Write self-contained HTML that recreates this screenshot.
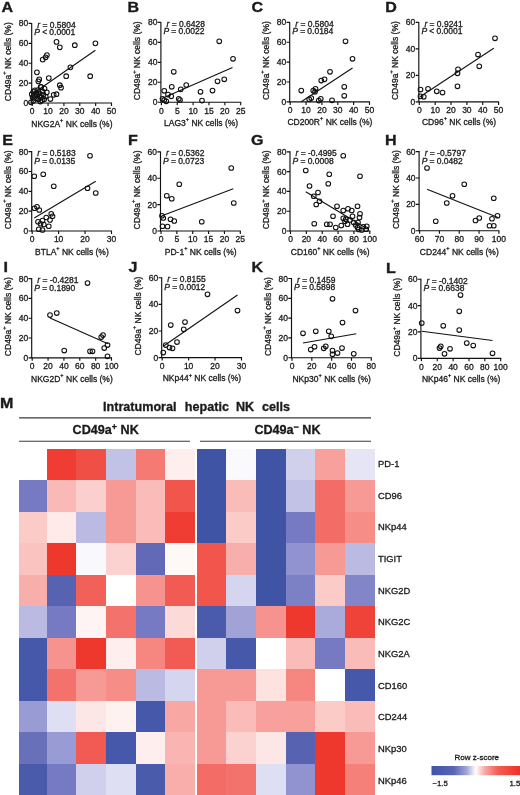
<!DOCTYPE html>
<html lang="en">
<head>
<meta charset="utf-8">
<title>Figure: CD49a+ NK cell correlations and intratumoral hepatic NK cell heatmap</title>
<style>
html,body{margin:0;padding:0;background:#fff;}
body{width:520px;height:795px;overflow:hidden;}
svg{display:block;font-family:"Liberation Sans",Arial,Helvetica,sans-serif;fill:#1a1a1a;}
text{stroke:#1a1a1a;stroke-width:0.3px;}
.lt{stroke-width:0.35px;}
.ax{stroke:#111;stroke-width:1.15;fill:none;}
.rl{stroke:#111;stroke-width:1.1;fill:none;}
.pt circle{stroke:#111;stroke-width:1.05;fill:none;}
.hl{stroke:#3a3a3a;stroke-width:1.1;fill:none;}
</style>
</head>
<body>
<svg width="520" height="795" viewBox="0 0 520 795">
<defs>
<linearGradient id="cb" x1="0" y1="0" x2="1" y2="0">
<stop offset="0" stop-color="#4054a6"/>
<stop offset="0.25" stop-color="#5965b3"/>
<stop offset="0.4" stop-color="#a3a7d8"/>
<stop offset="0.5" stop-color="#ffffff"/>
<stop offset="0.6" stop-color="#f9aaa5"/>
<stop offset="0.75" stop-color="#f25d54"/>
<stop offset="1" stop-color="#ee3127"/>
</linearGradient>
</defs>
<rect width="520" height="795" fill="#fff"/>
<text transform="translate(1.50 12.30) scale(1.13 1)" font-size="14.2" font-weight="bold" class="lt">A</text>
<path d="M31.70 22.90V103.50M31.20 103.00H112.00" class="ax"/>
<text x="28.20" y="106.00" font-size="8.5" text-anchor="end">0</text>
<text x="28.20" y="86.10" font-size="8.5" text-anchor="end">20</text>
<text x="28.20" y="66.20" font-size="8.5" text-anchor="end">40</text>
<text x="28.20" y="46.30" font-size="8.5" text-anchor="end">60</text>
<text x="28.20" y="26.40" font-size="8.5" text-anchor="end">80</text>
<text x="32.20" y="114.40" font-size="8.5" text-anchor="middle">0</text>
<text x="48.06" y="114.40" font-size="8.5" text-anchor="middle">10</text>
<text x="63.92" y="114.40" font-size="8.5" text-anchor="middle">20</text>
<text x="79.78" y="114.40" font-size="8.5" text-anchor="middle">30</text>
<text x="95.64" y="114.40" font-size="8.5" text-anchor="middle">40</text>
<text x="111.50" y="114.40" font-size="8.5" text-anchor="middle">50</text>
<path d="M28.50 103.00H31.70M28.50 83.10H31.70M28.50 63.20H31.70M28.50 43.30H31.70M28.50 23.40H31.70M32.20 103.00V106.00M48.06 103.00V106.00M63.92 103.00V106.00M79.78 103.00V106.00M95.64 103.00V106.00M111.50 103.00V106.00" class="ax"/>
<text x="71.90" y="126.80" font-size="8.5" text-anchor="middle">NKG2A<tspan dy="-4.8" font-size="5.6">+</tspan><tspan dy="4.8"> NK cells (%)</tspan></text>
<text x="11.20" y="61.70" font-size="8.5" text-anchor="middle" transform="rotate(-90 11.20 61.70)">CD49a<tspan dy="-4.8" font-size="5.6">+</tspan><tspan dy="4.8"> NK cells (%)</tspan></text>
<text x="37.30" y="27.80" font-size="8.5"><tspan font-style="italic">r</tspan><tspan dx="2.3">=</tspan><tspan dx="2.3">0.5804</tspan></text>
<text x="34.30" y="35.30" font-size="8.5"><tspan font-style="italic">P</tspan><tspan dx="2.2"><</tspan><tspan dx="2.2">0.0001</tspan></text>
<path d="M32.70 93.70L95.40 50.20" class="rl"/>
<g class="pt"><circle cx="56.50" cy="41.90" r="2.35"/><circle cx="59.80" cy="47.30" r="2.35"/><circle cx="74.80" cy="45.20" r="2.35"/><circle cx="95.40" cy="43.30" r="2.35"/><circle cx="46.90" cy="55.00" r="2.35"/><circle cx="45.60" cy="57.30" r="2.35"/><circle cx="42.70" cy="59.60" r="2.35"/><circle cx="70.40" cy="67.30" r="2.35"/><circle cx="36.90" cy="72.30" r="2.35"/><circle cx="66.20" cy="76.20" r="2.35"/><circle cx="90.20" cy="76.20" r="2.35"/><circle cx="48.80" cy="78.10" r="2.35"/><circle cx="39.20" cy="79.40" r="2.35"/><circle cx="38.30" cy="81.30" r="2.35"/><circle cx="59.80" cy="85.20" r="2.35"/><circle cx="61.00" cy="87.70" r="2.35"/><circle cx="41.20" cy="87.10" r="2.35"/><circle cx="56.50" cy="94.20" r="2.35"/><circle cx="53.70" cy="94.80" r="2.35"/><circle cx="50.40" cy="99.00" r="2.35"/><circle cx="34.90" cy="90.40" r="2.35"/><circle cx="40.70" cy="86.90" r="2.35"/><circle cx="44.50" cy="88.50" r="2.35"/><circle cx="46.80" cy="92.30" r="2.35"/><circle cx="45.70" cy="96.50" r="2.35"/><circle cx="40.30" cy="101.50" r="2.35"/><circle cx="33.40" cy="100.80" r="2.35"/><circle cx="31.80" cy="94.20" r="2.35"/><circle cx="38.00" cy="90.00" r="2.35"/><circle cx="42.60" cy="91.50" r="2.35"/><circle cx="37.20" cy="95.40" r="2.35"/><circle cx="41.00" cy="97.70" r="2.35"/><circle cx="35.70" cy="98.50" r="2.35"/><circle cx="39.20" cy="93.00" r="2.35"/><circle cx="43.40" cy="94.60" r="2.35"/><circle cx="33.40" cy="91.50" r="2.35"/><circle cx="44.20" cy="99.20" r="2.35"/><circle cx="32.60" cy="97.30" r="2.35"/><circle cx="38.40" cy="99.20" r="2.35"/><circle cx="31.00" cy="102.30" r="2.35"/><circle cx="36.30" cy="92.80" r="2.35"/><circle cx="34.30" cy="95.80" r="2.35"/><circle cx="42.00" cy="100.30" r="2.35"/><circle cx="39.80" cy="96.00" r="2.35"/></g>
<text transform="translate(127.60 12.30) scale(1.13 1)" font-size="14.2" font-weight="bold" class="lt">B</text>
<path d="M160.90 21.90V102.70M160.40 102.20H241.20" class="ax"/>
<text x="157.40" y="105.20" font-size="8.5" text-anchor="end">0</text>
<text x="157.40" y="85.25" font-size="8.5" text-anchor="end">20</text>
<text x="157.40" y="65.30" font-size="8.5" text-anchor="end">40</text>
<text x="157.40" y="45.35" font-size="8.5" text-anchor="end">60</text>
<text x="157.40" y="25.40" font-size="8.5" text-anchor="end">80</text>
<text x="161.40" y="113.60" font-size="8.5" text-anchor="middle">0</text>
<text x="177.26" y="113.60" font-size="8.5" text-anchor="middle">5</text>
<text x="193.12" y="113.60" font-size="8.5" text-anchor="middle">10</text>
<text x="208.98" y="113.60" font-size="8.5" text-anchor="middle">15</text>
<text x="224.84" y="113.60" font-size="8.5" text-anchor="middle">20</text>
<text x="240.70" y="113.60" font-size="8.5" text-anchor="middle">25</text>
<path d="M157.70 102.20H160.90M157.70 82.25H160.90M157.70 62.30H160.90M157.70 42.35H160.90M157.70 22.40H160.90M161.40 102.20V105.20M177.26 102.20V105.20M193.12 102.20V105.20M208.98 102.20V105.20M224.84 102.20V105.20M240.70 102.20V105.20" class="ax"/>
<text x="201.10" y="126.00" font-size="8.5" text-anchor="middle">LAG3<tspan dy="-4.8" font-size="5.6">+</tspan><tspan dy="4.8"> NK cells (%)</tspan></text>
<text x="140.40" y="60.80" font-size="8.5" text-anchor="middle" transform="rotate(-90 140.40 60.80)">CD49a<tspan dy="-4.8" font-size="5.6">+</tspan><tspan dy="4.8"> NK cells (%)</tspan></text>
<text x="166.50" y="26.80" font-size="8.5"><tspan font-style="italic">r</tspan><tspan dx="2.3">=</tspan><tspan dx="2.3">0.6428</tspan></text>
<text x="163.50" y="34.30" font-size="8.5"><tspan font-style="italic">P</tspan><tspan dx="2.2">=</tspan><tspan dx="2.2">0.0022</tspan></text>
<path d="M163.00 98.00L232.50 67.50" class="rl"/>
<g class="pt"><circle cx="219.25" cy="41.25" r="2.35"/><circle cx="233.00" cy="58.75" r="2.35"/><circle cx="173.75" cy="71.75" r="2.35"/><circle cx="224.25" cy="79.25" r="2.35"/><circle cx="217.50" cy="81.25" r="2.35"/><circle cx="186.25" cy="85.00" r="2.35"/><circle cx="171.75" cy="86.75" r="2.35"/><circle cx="164.25" cy="90.75" r="2.35"/><circle cx="180.75" cy="89.25" r="2.35"/><circle cx="212.50" cy="90.50" r="2.35"/><circle cx="200.50" cy="91.75" r="2.35"/><circle cx="168.00" cy="94.50" r="2.35"/><circle cx="171.25" cy="96.25" r="2.35"/><circle cx="162.50" cy="98.75" r="2.35"/><circle cx="164.25" cy="100.00" r="2.35"/><circle cx="178.75" cy="98.75" r="2.35"/><circle cx="180.00" cy="100.00" r="2.35"/><circle cx="202.00" cy="100.50" r="2.35"/><circle cx="166.25" cy="101.25" r="2.35"/></g>
<text transform="translate(251.50 12.30) scale(1.13 1)" font-size="14.2" font-weight="bold" class="lt">C</text>
<path d="M289.70 21.90V102.40M289.20 101.90H370.00" class="ax"/>
<text x="286.20" y="104.90" font-size="8.5" text-anchor="end">0</text>
<text x="286.20" y="85.03" font-size="8.5" text-anchor="end">20</text>
<text x="286.20" y="65.15" font-size="8.5" text-anchor="end">40</text>
<text x="286.20" y="45.28" font-size="8.5" text-anchor="end">60</text>
<text x="286.20" y="25.40" font-size="8.5" text-anchor="end">80</text>
<text x="290.20" y="113.30" font-size="8.5" text-anchor="middle">0</text>
<text x="306.06" y="113.30" font-size="8.5" text-anchor="middle">10</text>
<text x="321.92" y="113.30" font-size="8.5" text-anchor="middle">20</text>
<text x="337.78" y="113.30" font-size="8.5" text-anchor="middle">30</text>
<text x="353.64" y="113.30" font-size="8.5" text-anchor="middle">40</text>
<text x="369.50" y="113.30" font-size="8.5" text-anchor="middle">50</text>
<path d="M286.50 101.90H289.70M286.50 82.03H289.70M286.50 62.15H289.70M286.50 42.28H289.70M286.50 22.40H289.70M290.20 101.90V104.90M306.06 101.90V104.90M321.92 101.90V104.90M337.78 101.90V104.90M353.64 101.90V104.90M369.50 101.90V104.90" class="ax"/>
<text x="329.90" y="125.00" font-size="8.5" text-anchor="middle">CD200R<tspan dy="-4.8" font-size="5.6">+</tspan><tspan dy="4.8"> NK cells (%)</tspan></text>
<text x="269.20" y="60.65" font-size="8.5" text-anchor="middle" transform="rotate(-90 269.20 60.65)">CD49a<tspan dy="-4.8" font-size="5.6">+</tspan><tspan dy="4.8"> NK cells (%)</tspan></text>
<text x="295.30" y="26.80" font-size="8.5"><tspan font-style="italic">r</tspan><tspan dx="2.3">=</tspan><tspan dx="2.3">0.5804</tspan></text>
<text x="292.30" y="34.30" font-size="8.5"><tspan font-style="italic">P</tspan><tspan dx="2.2">=</tspan><tspan dx="2.2">0.0184</tspan></text>
<path d="M301.25 101.75L352.50 68.00" class="rl"/>
<g class="pt"><circle cx="345.50" cy="41.25" r="2.35"/><circle cx="352.50" cy="58.75" r="2.35"/><circle cx="330.00" cy="71.75" r="2.35"/><circle cx="324.50" cy="79.25" r="2.35"/><circle cx="321.25" cy="80.50" r="2.35"/><circle cx="344.25" cy="86.75" r="2.35"/><circle cx="301.25" cy="90.50" r="2.35"/><circle cx="315.50" cy="88.75" r="2.35"/><circle cx="313.25" cy="90.50" r="2.35"/><circle cx="315.00" cy="91.75" r="2.35"/><circle cx="344.25" cy="95.75" r="2.35"/><circle cx="311.25" cy="98.00" r="2.35"/><circle cx="309.25" cy="99.25" r="2.35"/><circle cx="320.75" cy="98.75" r="2.35"/><circle cx="318.75" cy="100.50" r="2.35"/><circle cx="332.00" cy="100.25" r="2.35"/></g>
<text transform="translate(385.30 12.30) scale(1.13 1)" font-size="14.2" font-weight="bold" class="lt">D</text>
<path d="M418.80 21.90V102.40M418.30 101.90H499.10" class="ax"/>
<text x="415.30" y="104.90" font-size="8.5" text-anchor="end">0</text>
<text x="415.30" y="78.40" font-size="8.5" text-anchor="end">20</text>
<text x="415.30" y="51.90" font-size="8.5" text-anchor="end">40</text>
<text x="415.30" y="25.40" font-size="8.5" text-anchor="end">60</text>
<text x="419.30" y="113.30" font-size="8.5" text-anchor="middle">0</text>
<text x="435.16" y="113.30" font-size="8.5" text-anchor="middle">10</text>
<text x="451.02" y="113.30" font-size="8.5" text-anchor="middle">20</text>
<text x="466.88" y="113.30" font-size="8.5" text-anchor="middle">30</text>
<text x="482.74" y="113.30" font-size="8.5" text-anchor="middle">40</text>
<text x="498.60" y="113.30" font-size="8.5" text-anchor="middle">50</text>
<path d="M415.60 101.90H418.80M415.60 75.40H418.80M415.60 48.90H418.80M415.60 22.40H418.80M419.30 101.90V104.90M435.16 101.90V104.90M451.02 101.90V104.90M466.88 101.90V104.90M482.74 101.90V104.90M498.60 101.90V104.90" class="ax"/>
<text x="459.00" y="124.70" font-size="8.5" text-anchor="middle">CD96<tspan dy="-4.8" font-size="5.6">+</tspan><tspan dy="4.8"> NK cells (%)</tspan></text>
<text x="398.30" y="60.65" font-size="8.5" text-anchor="middle" transform="rotate(-90 398.30 60.65)">CD49a<tspan dy="-4.8" font-size="5.6">+</tspan><tspan dy="4.8"> NK cells (%)</tspan></text>
<text x="424.40" y="26.80" font-size="8.5"><tspan font-style="italic">r</tspan><tspan dx="2.3">=</tspan><tspan dx="2.3">0.9241</tspan></text>
<text x="421.40" y="34.30" font-size="8.5"><tspan font-style="italic">P</tspan><tspan dx="2.2"><</tspan><tspan dx="2.2">0.0001</tspan></text>
<path d="M420.00 96.75L493.75 48.25" class="rl"/>
<g class="pt"><circle cx="495.00" cy="38.25" r="2.35"/><circle cx="478.00" cy="54.50" r="2.35"/><circle cx="479.25" cy="66.25" r="2.35"/><circle cx="458.00" cy="69.25" r="2.35"/><circle cx="457.50" cy="73.25" r="2.35"/><circle cx="457.50" cy="86.25" r="2.35"/><circle cx="428.00" cy="88.75" r="2.35"/><circle cx="420.50" cy="89.50" r="2.35"/><circle cx="436.75" cy="91.25" r="2.35"/><circle cx="442.50" cy="92.50" r="2.35"/><circle cx="420.50" cy="96.25" r="2.35"/><circle cx="423.75" cy="96.75" r="2.35"/></g>
<text transform="translate(2.30 145.00) scale(1.13 1)" font-size="14.2" font-weight="bold" class="lt">E</text>
<path d="M31.70 151.10V231.50M31.20 231.00H112.00" class="ax"/>
<text x="28.20" y="234.00" font-size="8.5" text-anchor="end">0</text>
<text x="28.20" y="214.15" font-size="8.5" text-anchor="end">20</text>
<text x="28.20" y="194.30" font-size="8.5" text-anchor="end">40</text>
<text x="28.20" y="174.45" font-size="8.5" text-anchor="end">60</text>
<text x="28.20" y="154.60" font-size="8.5" text-anchor="end">80</text>
<text x="32.20" y="242.40" font-size="8.5" text-anchor="middle">0</text>
<text x="58.63" y="242.40" font-size="8.5" text-anchor="middle">10</text>
<text x="85.07" y="242.40" font-size="8.5" text-anchor="middle">20</text>
<text x="111.50" y="242.40" font-size="8.5" text-anchor="middle">30</text>
<path d="M28.50 231.00H31.70M28.50 211.15H31.70M28.50 191.30H31.70M28.50 171.45H31.70M28.50 151.60H31.70M32.20 231.00V234.00M58.63 231.00V234.00M85.07 231.00V234.00M111.50 231.00V234.00" class="ax"/>
<text x="71.90" y="254.80" font-size="8.5" text-anchor="middle">BTLA<tspan dy="-4.8" font-size="5.6">+</tspan><tspan dy="4.8"> NK cells (%)</tspan></text>
<text x="11.20" y="189.80" font-size="8.5" text-anchor="middle" transform="rotate(-90 11.20 189.80)">CD49a<tspan dy="-4.8" font-size="5.6">+</tspan><tspan dy="4.8"> NK cells (%)</tspan></text>
<text x="37.30" y="156.00" font-size="8.5"><tspan font-style="italic">r</tspan><tspan dx="2.3">=</tspan><tspan dx="2.3">0.5183</tspan></text>
<text x="34.30" y="163.50" font-size="8.5"><tspan font-style="italic">P</tspan><tspan dx="2.2">=</tspan><tspan dx="2.2">0.0135</tspan></text>
<path d="M34.25 218.00L95.75 181.25" class="rl"/>
<g class="pt"><circle cx="90.00" cy="155.75" r="2.35"/><circle cx="34.25" cy="176.25" r="2.35"/><circle cx="43.25" cy="174.25" r="2.35"/><circle cx="53.75" cy="186.25" r="2.35"/><circle cx="87.50" cy="188.25" r="2.35"/><circle cx="95.75" cy="193.00" r="2.35"/><circle cx="37.00" cy="206.75" r="2.35"/><circle cx="34.50" cy="208.25" r="2.35"/><circle cx="39.25" cy="210.00" r="2.35"/><circle cx="51.25" cy="213.75" r="2.35"/><circle cx="52.50" cy="216.25" r="2.35"/><circle cx="46.25" cy="217.50" r="2.35"/><circle cx="50.00" cy="220.00" r="2.35"/><circle cx="42.50" cy="220.50" r="2.35"/><circle cx="38.00" cy="221.75" r="2.35"/><circle cx="40.50" cy="223.75" r="2.35"/><circle cx="43.75" cy="224.50" r="2.35"/><circle cx="48.75" cy="226.25" r="2.35"/><circle cx="38.75" cy="229.25" r="2.35"/><circle cx="42.50" cy="230.00" r="2.35"/></g>
<text transform="translate(128.00 145.00) scale(1.13 1)" font-size="14.2" font-weight="bold" class="lt">F</text>
<path d="M160.50 151.40V231.50M160.00 231.00H240.80" class="ax"/>
<text x="157.00" y="234.00" font-size="8.5" text-anchor="end">0</text>
<text x="157.00" y="207.63" font-size="8.5" text-anchor="end">20</text>
<text x="157.00" y="181.27" font-size="8.5" text-anchor="end">40</text>
<text x="157.00" y="154.90" font-size="8.5" text-anchor="end">60</text>
<text x="161.00" y="242.40" font-size="8.5" text-anchor="middle">0</text>
<text x="176.86" y="242.40" font-size="8.5" text-anchor="middle">5</text>
<text x="192.72" y="242.40" font-size="8.5" text-anchor="middle">10</text>
<text x="208.58" y="242.40" font-size="8.5" text-anchor="middle">15</text>
<text x="224.44" y="242.40" font-size="8.5" text-anchor="middle">20</text>
<text x="240.30" y="242.40" font-size="8.5" text-anchor="middle">25</text>
<path d="M157.30 231.00H160.50M157.30 204.63H160.50M157.30 178.27H160.50M157.30 151.90H160.50M161.00 231.00V234.00M176.86 231.00V234.00M192.72 231.00V234.00M208.58 231.00V234.00M224.44 231.00V234.00M240.30 231.00V234.00" class="ax"/>
<text x="200.70" y="254.80" font-size="8.5" text-anchor="middle">PD-1<tspan dy="-4.8" font-size="5.6">+</tspan><tspan dy="4.8"> NK cells (%)</tspan></text>
<text x="140.00" y="189.95" font-size="8.5" text-anchor="middle" transform="rotate(-90 140.00 189.95)">CD49a<tspan dy="-4.8" font-size="5.6">+</tspan><tspan dy="4.8"> NK cells (%)</tspan></text>
<text x="166.10" y="156.30" font-size="8.5"><tspan font-style="italic">r</tspan><tspan dx="2.3">=</tspan><tspan dx="2.3">0.5362</tspan></text>
<text x="163.10" y="163.80" font-size="8.5"><tspan font-style="italic">P</tspan><tspan dx="2.2">=</tspan><tspan dx="2.2">0.0723</tspan></text>
<path d="M162.00 215.75L233.25 188.75" class="rl"/>
<g class="pt"><circle cx="231.25" cy="168.00" r="2.35"/><circle cx="179.25" cy="184.25" r="2.35"/><circle cx="166.75" cy="195.75" r="2.35"/><circle cx="171.75" cy="198.75" r="2.35"/><circle cx="233.75" cy="203.00" r="2.35"/><circle cx="162.00" cy="215.75" r="2.35"/><circle cx="163.25" cy="218.00" r="2.35"/><circle cx="170.50" cy="219.25" r="2.35"/><circle cx="174.25" cy="221.00" r="2.35"/><circle cx="201.75" cy="221.75" r="2.35"/><circle cx="162.50" cy="226.25" r="2.35"/><circle cx="167.50" cy="226.50" r="2.35"/></g>
<text transform="translate(251.00 145.00) scale(1.13 1)" font-size="14.2" font-weight="bold" class="lt">G</text>
<path d="M290.00 151.30V231.50M289.50 231.00H370.30" class="ax"/>
<text x="286.50" y="234.00" font-size="8.5" text-anchor="end">0</text>
<text x="286.50" y="214.20" font-size="8.5" text-anchor="end">20</text>
<text x="286.50" y="194.40" font-size="8.5" text-anchor="end">40</text>
<text x="286.50" y="174.60" font-size="8.5" text-anchor="end">60</text>
<text x="286.50" y="154.80" font-size="8.5" text-anchor="end">80</text>
<text x="290.50" y="242.40" font-size="8.5" text-anchor="middle">0</text>
<text x="306.36" y="242.40" font-size="8.5" text-anchor="middle">20</text>
<text x="322.22" y="242.40" font-size="8.5" text-anchor="middle">40</text>
<text x="338.08" y="242.40" font-size="8.5" text-anchor="middle">60</text>
<text x="353.94" y="242.40" font-size="8.5" text-anchor="middle">80</text>
<text x="369.80" y="242.40" font-size="8.5" text-anchor="middle">100</text>
<path d="M286.80 231.00H290.00M286.80 211.20H290.00M286.80 191.40H290.00M286.80 171.60H290.00M286.80 151.80H290.00M290.50 231.00V234.00M306.36 231.00V234.00M322.22 231.00V234.00M338.08 231.00V234.00M353.94 231.00V234.00M369.80 231.00V234.00" class="ax"/>
<text x="330.20" y="254.80" font-size="8.5" text-anchor="middle">CD160<tspan dy="-4.8" font-size="5.6">+</tspan><tspan dy="4.8"> NK cells (%)</tspan></text>
<text x="269.50" y="189.90" font-size="8.5" text-anchor="middle" transform="rotate(-90 269.50 189.90)">CD49a<tspan dy="-4.8" font-size="5.6">+</tspan><tspan dy="4.8"> NK cells (%)</tspan></text>
<text x="295.60" y="156.20" font-size="8.5"><tspan font-style="italic">r</tspan><tspan dx="2.3">=</tspan><tspan dx="2.3">-0.4995</tspan></text>
<text x="292.60" y="163.70" font-size="8.5"><tspan font-style="italic">P</tspan><tspan dx="2.2">=</tspan><tspan dx="2.2">0.0008</tspan></text>
<path d="M305.75 191.75L368.00 229.25" class="rl"/>
<g class="pt"><circle cx="343.25" cy="155.75" r="2.35"/><circle cx="305.75" cy="170.50" r="2.35"/><circle cx="329.25" cy="174.25" r="2.35"/><circle cx="360.00" cy="176.25" r="2.35"/><circle cx="328.25" cy="183.75" r="2.35"/><circle cx="309.50" cy="186.00" r="2.35"/><circle cx="318.00" cy="192.50" r="2.35"/><circle cx="313.75" cy="196.25" r="2.35"/><circle cx="319.50" cy="201.25" r="2.35"/><circle cx="316.25" cy="204.50" r="2.35"/><circle cx="337.00" cy="206.25" r="2.35"/><circle cx="357.50" cy="206.25" r="2.35"/><circle cx="348.00" cy="208.75" r="2.35"/><circle cx="343.25" cy="210.50" r="2.35"/><circle cx="351.75" cy="210.50" r="2.35"/><circle cx="360.00" cy="213.75" r="2.35"/><circle cx="333.00" cy="216.25" r="2.35"/><circle cx="359.50" cy="217.50" r="2.35"/><circle cx="352.50" cy="216.25" r="2.35"/><circle cx="343.25" cy="218.25" r="2.35"/><circle cx="345.75" cy="219.25" r="2.35"/><circle cx="350.00" cy="220.00" r="2.35"/><circle cx="345.00" cy="221.25" r="2.35"/><circle cx="353.75" cy="222.50" r="2.35"/><circle cx="358.00" cy="222.50" r="2.35"/><circle cx="314.25" cy="223.75" r="2.35"/><circle cx="326.75" cy="224.25" r="2.35"/><circle cx="330.00" cy="224.25" r="2.35"/><circle cx="347.50" cy="224.25" r="2.35"/><circle cx="341.25" cy="225.50" r="2.35"/><circle cx="355.75" cy="225.00" r="2.35"/><circle cx="335.75" cy="227.50" r="2.35"/><circle cx="357.50" cy="227.50" r="2.35"/><circle cx="363.25" cy="226.75" r="2.35"/><circle cx="366.75" cy="226.25" r="2.35"/><circle cx="358.75" cy="229.50" r="2.35"/><circle cx="361.75" cy="230.00" r="2.35"/><circle cx="366.25" cy="229.25" r="2.35"/></g>
<text transform="translate(385.00 145.00) scale(1.13 1)" font-size="14.2" font-weight="bold" class="lt">H</text>
<path d="M419.10 151.10V231.20M418.60 230.70H499.40" class="ax"/>
<text x="415.60" y="233.70" font-size="8.5" text-anchor="end">0</text>
<text x="415.60" y="207.33" font-size="8.5" text-anchor="end">20</text>
<text x="415.60" y="180.97" font-size="8.5" text-anchor="end">40</text>
<text x="415.60" y="154.60" font-size="8.5" text-anchor="end">60</text>
<text x="419.60" y="242.10" font-size="8.5" text-anchor="middle">60</text>
<text x="439.43" y="242.10" font-size="8.5" text-anchor="middle">70</text>
<text x="459.25" y="242.10" font-size="8.5" text-anchor="middle">80</text>
<text x="479.08" y="242.10" font-size="8.5" text-anchor="middle">90</text>
<text x="498.90" y="242.10" font-size="8.5" text-anchor="middle">100</text>
<path d="M415.90 230.70H419.10M415.90 204.33H419.10M415.90 177.97H419.10M415.90 151.60H419.10M419.60 230.70V233.70M439.43 230.70V233.70M459.25 230.70V233.70M479.08 230.70V233.70M498.90 230.70V233.70" class="ax"/>
<text x="459.30" y="254.50" font-size="8.5" text-anchor="middle">CD244<tspan dy="-4.8" font-size="5.6">+</tspan><tspan dy="4.8"> NK cells (%)</tspan></text>
<text x="398.60" y="189.65" font-size="8.5" text-anchor="middle" transform="rotate(-90 398.60 189.65)">CD49a<tspan dy="-4.8" font-size="5.6">+</tspan><tspan dy="4.8"> NK cells (%)</tspan></text>
<text x="424.70" y="156.00" font-size="8.5"><tspan font-style="italic">r</tspan><tspan dx="2.3">=</tspan><tspan dx="2.3">-0.5797</tspan></text>
<text x="421.70" y="163.50" font-size="8.5"><tspan font-style="italic">P</tspan><tspan dx="2.2">=</tspan><tspan dx="2.2">0.0482</tspan></text>
<path d="M427.00 189.25L498.00 217.50" class="rl"/>
<g class="pt"><circle cx="427.00" cy="168.00" r="2.35"/><circle cx="464.25" cy="184.25" r="2.35"/><circle cx="452.50" cy="195.75" r="2.35"/><circle cx="493.75" cy="198.25" r="2.35"/><circle cx="446.75" cy="203.00" r="2.35"/><circle cx="497.50" cy="215.75" r="2.35"/><circle cx="479.25" cy="218.00" r="2.35"/><circle cx="492.00" cy="218.75" r="2.35"/><circle cx="475.50" cy="220.50" r="2.35"/><circle cx="435.75" cy="221.25" r="2.35"/><circle cx="489.50" cy="225.75" r="2.35"/><circle cx="493.75" cy="225.75" r="2.35"/></g>
<text transform="translate(3.50 272.00) scale(1.13 1)" font-size="14.2" font-weight="bold" class="lt">I</text>
<path d="M31.70 278.10V358.30M31.20 357.80H112.00" class="ax"/>
<text x="28.20" y="360.80" font-size="8.5" text-anchor="end">0</text>
<text x="28.20" y="341.00" font-size="8.5" text-anchor="end">20</text>
<text x="28.20" y="321.20" font-size="8.5" text-anchor="end">40</text>
<text x="28.20" y="301.40" font-size="8.5" text-anchor="end">60</text>
<text x="28.20" y="281.60" font-size="8.5" text-anchor="end">80</text>
<text x="32.20" y="369.20" font-size="8.5" text-anchor="middle">0</text>
<text x="48.06" y="369.20" font-size="8.5" text-anchor="middle">20</text>
<text x="63.92" y="369.20" font-size="8.5" text-anchor="middle">40</text>
<text x="79.78" y="369.20" font-size="8.5" text-anchor="middle">60</text>
<text x="95.64" y="369.20" font-size="8.5" text-anchor="middle">80</text>
<text x="111.50" y="369.20" font-size="8.5" text-anchor="middle">100</text>
<path d="M28.50 357.80H31.70M28.50 338.00H31.70M28.50 318.20H31.70M28.50 298.40H31.70M28.50 278.60H31.70M32.20 357.80V360.80M48.06 357.80V360.80M63.92 357.80V360.80M79.78 357.80V360.80M95.64 357.80V360.80M111.50 357.80V360.80" class="ax"/>
<text x="71.90" y="381.60" font-size="8.5" text-anchor="middle">NKG2D<tspan dy="-4.8" font-size="5.6">+</tspan><tspan dy="4.8"> NK cells (%)</tspan></text>
<text x="11.20" y="316.70" font-size="8.5" text-anchor="middle" transform="rotate(-90 11.20 316.70)">CD49a<tspan dy="-4.8" font-size="5.6">+</tspan><tspan dy="4.8"> NK cells (%)</tspan></text>
<text x="37.30" y="283.00" font-size="8.5"><tspan font-style="italic">r</tspan><tspan dx="2.3">=</tspan><tspan dx="2.3">-0.4281</tspan></text>
<text x="34.30" y="290.50" font-size="8.5"><tspan font-style="italic">P</tspan><tspan dx="2.2">=</tspan><tspan dx="2.2">0.1890</tspan></text>
<path d="M50.00 318.00L108.00 343.75" class="rl"/>
<g class="pt"><circle cx="87.50" cy="283.00" r="2.35"/><circle cx="50.00" cy="315.00" r="2.35"/><circle cx="56.75" cy="313.00" r="2.35"/><circle cx="103.00" cy="335.00" r="2.35"/><circle cx="101.25" cy="337.00" r="2.35"/><circle cx="107.50" cy="345.00" r="2.35"/><circle cx="104.25" cy="348.00" r="2.35"/><circle cx="64.25" cy="350.50" r="2.35"/><circle cx="90.00" cy="351.25" r="2.35"/><circle cx="92.50" cy="351.25" r="2.35"/><circle cx="107.50" cy="356.25" r="2.35"/></g>
<text transform="translate(128.50 272.00) scale(1.13 1)" font-size="14.2" font-weight="bold" class="lt">J</text>
<path d="M161.70 277.20V358.10M161.20 357.60H242.00" class="ax"/>
<text x="158.20" y="360.60" font-size="8.5" text-anchor="end">0</text>
<text x="158.20" y="333.97" font-size="8.5" text-anchor="end">20</text>
<text x="158.20" y="307.33" font-size="8.5" text-anchor="end">40</text>
<text x="158.20" y="280.70" font-size="8.5" text-anchor="end">60</text>
<text x="162.20" y="369.00" font-size="8.5" text-anchor="middle">0</text>
<text x="188.63" y="369.00" font-size="8.5" text-anchor="middle">10</text>
<text x="215.07" y="369.00" font-size="8.5" text-anchor="middle">20</text>
<text x="241.50" y="369.00" font-size="8.5" text-anchor="middle">30</text>
<path d="M158.50 357.60H161.70M158.50 330.97H161.70M158.50 304.33H161.70M158.50 277.70H161.70M162.20 357.60V360.60M188.63 357.60V360.60M215.07 357.60V360.60M241.50 357.60V360.60" class="ax"/>
<text x="201.90" y="381.40" font-size="8.5" text-anchor="middle">NKp44<tspan dy="-4.8" font-size="5.6">+</tspan><tspan dy="4.8"> NK cells (%)</tspan></text>
<text x="141.20" y="316.15" font-size="8.5" text-anchor="middle" transform="rotate(-90 141.20 316.15)">CD49a<tspan dy="-4.8" font-size="5.6">+</tspan><tspan dy="4.8"> NK cells (%)</tspan></text>
<text x="167.30" y="282.10" font-size="8.5"><tspan font-style="italic">r</tspan><tspan dx="2.3">=</tspan><tspan dx="2.3">0.8155</tspan></text>
<text x="164.30" y="289.60" font-size="8.5"><tspan font-style="italic">P</tspan><tspan dx="2.2">=</tspan><tspan dx="2.2">0.0012</tspan></text>
<path d="M163.25 346.25L237.50 295.00" class="rl"/>
<g class="pt"><circle cx="207.50" cy="294.25" r="2.35"/><circle cx="237.50" cy="310.50" r="2.35"/><circle cx="185.00" cy="322.00" r="2.35"/><circle cx="170.75" cy="325.00" r="2.35"/><circle cx="183.75" cy="329.25" r="2.35"/><circle cx="177.00" cy="342.00" r="2.35"/><circle cx="165.75" cy="345.00" r="2.35"/><circle cx="169.50" cy="347.50" r="2.35"/><circle cx="172.50" cy="348.25" r="2.35"/><circle cx="163.25" cy="352.50" r="2.35"/></g>
<text transform="translate(251.60 272.40) scale(1.13 1)" font-size="14.2" font-weight="bold" class="lt">K</text>
<path d="M291.50 278.00V358.20M291.00 357.70H371.80" class="ax"/>
<text x="288.00" y="360.70" font-size="8.5" text-anchor="end">0</text>
<text x="288.00" y="340.90" font-size="8.5" text-anchor="end">20</text>
<text x="288.00" y="321.10" font-size="8.5" text-anchor="end">40</text>
<text x="288.00" y="301.30" font-size="8.5" text-anchor="end">60</text>
<text x="288.00" y="281.50" font-size="8.5" text-anchor="end">80</text>
<text x="292.00" y="369.10" font-size="8.5" text-anchor="middle">0</text>
<text x="311.82" y="369.10" font-size="8.5" text-anchor="middle">20</text>
<text x="331.65" y="369.10" font-size="8.5" text-anchor="middle">40</text>
<text x="351.48" y="369.10" font-size="8.5" text-anchor="middle">60</text>
<text x="371.30" y="369.10" font-size="8.5" text-anchor="middle">80</text>
<path d="M288.30 357.70H291.50M288.30 337.90H291.50M288.30 318.10H291.50M288.30 298.30H291.50M288.30 278.50H291.50M292.00 357.70V360.70M311.82 357.70V360.70M331.65 357.70V360.70M351.48 357.70V360.70M371.30 357.70V360.70" class="ax"/>
<text x="331.70" y="381.50" font-size="8.5" text-anchor="middle">NKp30<tspan dy="-4.8" font-size="5.6">+</tspan><tspan dy="4.8"> NK cells (%)</tspan></text>
<text x="271.00" y="316.60" font-size="8.5" text-anchor="middle" transform="rotate(-90 271.00 316.60)">CD49a<tspan dy="-4.8" font-size="5.6">+</tspan><tspan dy="4.8"> NK cells (%)</tspan></text>
<text x="297.10" y="282.90" font-size="8.5"><tspan font-style="italic">r</tspan><tspan dx="2.3">=</tspan><tspan dx="2.3">0.1459</tspan></text>
<text x="294.10" y="290.40" font-size="8.5"><tspan font-style="italic">P</tspan><tspan dx="2.2">=</tspan><tspan dx="2.2">0.5898</tspan></text>
<path d="M303.00 343.00L356.25 333.75" class="rl"/>
<g class="pt"><circle cx="332.50" cy="298.75" r="2.35"/><circle cx="355.50" cy="310.50" r="2.35"/><circle cx="342.50" cy="322.50" r="2.35"/><circle cx="315.75" cy="331.25" r="2.35"/><circle cx="328.75" cy="331.25" r="2.35"/><circle cx="303.00" cy="333.25" r="2.35"/><circle cx="331.25" cy="336.25" r="2.35"/><circle cx="325.75" cy="346.25" r="2.35"/><circle cx="314.50" cy="346.75" r="2.35"/><circle cx="323.75" cy="348.25" r="2.35"/><circle cx="310.75" cy="349.50" r="2.35"/><circle cx="342.00" cy="348.00" r="2.35"/><circle cx="332.50" cy="350.50" r="2.35"/><circle cx="337.50" cy="353.00" r="2.35"/><circle cx="332.50" cy="354.25" r="2.35"/><circle cx="353.75" cy="353.75" r="2.35"/></g>
<text transform="translate(386.00 272.60) scale(1.13 1)" font-size="14.2" font-weight="bold" class="lt">L</text>
<path d="M420.90 278.70V358.80M420.40 358.30H501.20" class="ax"/>
<text x="417.40" y="361.30" font-size="8.5" text-anchor="end">0</text>
<text x="417.40" y="334.93" font-size="8.5" text-anchor="end">20</text>
<text x="417.40" y="308.57" font-size="8.5" text-anchor="end">40</text>
<text x="417.40" y="282.20" font-size="8.5" text-anchor="end">60</text>
<text x="421.40" y="369.70" font-size="8.5" text-anchor="middle">0</text>
<text x="437.26" y="369.70" font-size="8.5" text-anchor="middle">20</text>
<text x="453.12" y="369.70" font-size="8.5" text-anchor="middle">40</text>
<text x="468.98" y="369.70" font-size="8.5" text-anchor="middle">60</text>
<text x="484.84" y="369.70" font-size="8.5" text-anchor="middle">80</text>
<text x="500.70" y="369.70" font-size="8.5" text-anchor="middle">100</text>
<path d="M417.70 358.30H420.90M417.70 331.93H420.90M417.70 305.57H420.90M417.70 279.20H420.90M421.40 358.30V361.30M437.26 358.30V361.30M453.12 358.30V361.30M468.98 358.30V361.30M484.84 358.30V361.30M500.70 358.30V361.30" class="ax"/>
<text x="461.10" y="382.10" font-size="8.5" text-anchor="middle">NKp46<tspan dy="-4.8" font-size="5.6">+</tspan><tspan dy="4.8"> NK cells (%)</tspan></text>
<text x="400.40" y="317.25" font-size="8.5" text-anchor="middle" transform="rotate(-90 400.40 317.25)">CD49a<tspan dy="-4.8" font-size="5.6">+</tspan><tspan dy="4.8"> NK cells (%)</tspan></text>
<text x="426.50" y="283.60" font-size="8.5"><tspan font-style="italic">r</tspan><tspan dx="2.3">=</tspan><tspan dx="2.3">-0.1402</tspan></text>
<text x="423.50" y="291.10" font-size="8.5"><tspan font-style="italic">P</tspan><tspan dx="2.2">=</tspan><tspan dx="2.2">0.6638</tspan></text>
<path d="M421.75 331.25L492.50 340.50" class="rl"/>
<g class="pt"><circle cx="460.50" cy="295.00" r="2.35"/><circle cx="459.25" cy="311.25" r="2.35"/><circle cx="421.75" cy="323.00" r="2.35"/><circle cx="443.25" cy="325.75" r="2.35"/><circle cx="459.25" cy="330.00" r="2.35"/><circle cx="466.75" cy="343.00" r="2.35"/><circle cx="473.25" cy="345.50" r="2.35"/><circle cx="440.75" cy="346.25" r="2.35"/><circle cx="439.50" cy="348.00" r="2.35"/><circle cx="450.00" cy="348.75" r="2.35"/><circle cx="444.50" cy="353.75" r="2.35"/><circle cx="492.50" cy="353.25" r="2.35"/></g>
<text transform="translate(0.00 407.80) scale(1.13 1)" font-size="14.2" font-weight="bold" class="lt">M</text>
<text x="103.00" y="410.80" font-size="12.6" font-weight="bold">Intratumoral</text>
<text x="184.80" y="410.80" font-size="12.6" font-weight="bold">hepatic</text>
<text x="236.00" y="410.80" font-size="12.6" font-weight="bold">NK</text>
<text x="262.00" y="410.80" font-size="12.6" font-weight="bold">cells</text>
<path d="M19.1 417.9H371" class="hl"/>
<path d="M19.1 441.25H190M199.9 441.25H371" class="hl"/>
<text x="72.6" y="434.4" font-size="12.6" font-weight="bold">CD49a<tspan dy="-4" font-size="9">+</tspan><tspan dy="4"> NK</tspan></text>
<text x="254.4" y="434.4" font-size="12.6" font-weight="bold">CD49a<tspan dy="-4" font-size="9">−</tspan><tspan dy="4"> NK</tspan></text>
<g shape-rendering="crispEdges">
<rect x="18.85" y="448.50" width="27.95" height="31.80" fill="#ffffff"/>
<rect x="46.50" y="448.50" width="30.10" height="31.80" fill="#ef3d33"/>
<rect x="76.30" y="448.50" width="29.90" height="31.80" fill="#f04f46"/>
<rect x="105.90" y="448.50" width="29.90" height="31.80" fill="#c2c2e7"/>
<rect x="135.50" y="448.50" width="29.80" height="31.80" fill="#f47a73"/>
<rect x="165.00" y="448.50" width="29.95" height="31.80" fill="#feeeed"/>
<rect x="196.90" y="448.50" width="29.50" height="31.80" fill="#4054a6"/>
<rect x="226.10" y="448.50" width="30.20" height="31.80" fill="#fafafd"/>
<rect x="256.00" y="448.50" width="30.20" height="31.80" fill="#4054a6"/>
<rect x="285.90" y="448.50" width="29.60" height="31.80" fill="#d0d0ed"/>
<rect x="315.20" y="448.50" width="30.10" height="31.80" fill="#f7a09c"/>
<rect x="345.00" y="448.50" width="29.70" height="31.80" fill="#e5e5f5"/>
<rect x="18.85" y="480.00" width="27.95" height="31.80" fill="#767ac2"/>
<rect x="46.50" y="480.00" width="30.10" height="31.80" fill="#f9b9b6"/>
<rect x="76.30" y="480.00" width="29.90" height="31.80" fill="#fbcfcd"/>
<rect x="105.90" y="480.00" width="29.90" height="31.80" fill="#f79a95"/>
<rect x="135.50" y="480.00" width="29.80" height="31.80" fill="#f9bcb9"/>
<rect x="165.00" y="480.00" width="29.95" height="31.80" fill="#f1554c"/>
<rect x="196.90" y="480.00" width="29.50" height="31.80" fill="#4054a6"/>
<rect x="226.10" y="480.00" width="30.20" height="31.80" fill="#f9bcb9"/>
<rect x="256.00" y="480.00" width="30.20" height="31.80" fill="#4054a6"/>
<rect x="285.90" y="480.00" width="29.60" height="31.80" fill="#c2c2e7"/>
<rect x="315.20" y="480.00" width="30.10" height="31.80" fill="#f36d66"/>
<rect x="345.00" y="480.00" width="29.70" height="31.80" fill="#f79a95"/>
<rect x="18.85" y="511.50" width="27.95" height="31.80" fill="#fbcbc8"/>
<rect x="46.50" y="511.50" width="30.10" height="31.80" fill="#fdeae9"/>
<rect x="76.30" y="511.50" width="29.90" height="31.80" fill="#babae3"/>
<rect x="105.90" y="511.50" width="29.90" height="31.80" fill="#f79a95"/>
<rect x="135.50" y="511.50" width="29.80" height="31.80" fill="#f9bcb9"/>
<rect x="165.00" y="511.50" width="29.95" height="31.80" fill="#ef3d33"/>
<rect x="196.90" y="511.50" width="29.50" height="31.80" fill="#4054a6"/>
<rect x="226.10" y="511.50" width="30.20" height="31.80" fill="#fbcbc8"/>
<rect x="256.00" y="511.50" width="30.20" height="31.80" fill="#4054a6"/>
<rect x="285.90" y="511.50" width="29.60" height="31.80" fill="#767ac2"/>
<rect x="315.20" y="511.50" width="30.10" height="31.80" fill="#f36d66"/>
<rect x="345.00" y="511.50" width="29.70" height="31.80" fill="#f68d87"/>
<rect x="18.85" y="543.00" width="27.95" height="31.80" fill="#fac3c0"/>
<rect x="46.50" y="543.00" width="30.10" height="31.80" fill="#ee372d"/>
<rect x="76.30" y="543.00" width="29.90" height="31.80" fill="#f9f9fd"/>
<rect x="105.90" y="543.00" width="29.90" height="31.80" fill="#fbd2d0"/>
<rect x="135.50" y="543.00" width="29.80" height="31.80" fill="#626ab7"/>
<rect x="165.00" y="543.00" width="29.95" height="31.80" fill="#fef8f7"/>
<rect x="196.90" y="543.00" width="29.50" height="31.80" fill="#f1554c"/>
<rect x="226.10" y="543.00" width="30.20" height="31.80" fill="#f8aeaa"/>
<rect x="256.00" y="543.00" width="30.20" height="31.80" fill="#4054a6"/>
<rect x="285.90" y="543.00" width="29.60" height="31.80" fill="#9193d0"/>
<rect x="315.20" y="543.00" width="30.10" height="31.80" fill="#f79a95"/>
<rect x="345.00" y="543.00" width="29.70" height="31.80" fill="#babae3"/>
<rect x="18.85" y="574.50" width="27.95" height="31.80" fill="#f8aeaa"/>
<rect x="46.50" y="574.50" width="30.10" height="31.80" fill="#5763b1"/>
<rect x="76.30" y="574.50" width="29.90" height="31.80" fill="#f26159"/>
<rect x="105.90" y="574.50" width="29.90" height="31.80" fill="#ffffff"/>
<rect x="135.50" y="574.50" width="29.80" height="31.80" fill="#f6938e"/>
<rect x="165.00" y="574.50" width="29.95" height="31.80" fill="#f15b53"/>
<rect x="196.90" y="574.50" width="29.50" height="31.80" fill="#f1554c"/>
<rect x="226.10" y="574.50" width="30.20" height="31.80" fill="#d5d5ef"/>
<rect x="256.00" y="574.50" width="30.20" height="31.80" fill="#4054a6"/>
<rect x="285.90" y="574.50" width="29.60" height="31.80" fill="#7c80c5"/>
<rect x="315.20" y="574.50" width="30.10" height="31.80" fill="#fbcbc8"/>
<rect x="345.00" y="574.50" width="29.70" height="31.80" fill="#8286c8"/>
<rect x="18.85" y="606.00" width="27.95" height="31.80" fill="#babae3"/>
<rect x="46.50" y="606.00" width="30.10" height="31.80" fill="#767ac2"/>
<rect x="76.30" y="606.00" width="29.90" height="31.80" fill="#fef4f3"/>
<rect x="105.90" y="606.00" width="29.90" height="31.80" fill="#f3736c"/>
<rect x="135.50" y="606.00" width="29.80" height="31.80" fill="#767ac2"/>
<rect x="165.00" y="606.00" width="29.95" height="31.80" fill="#fcdad8"/>
<rect x="196.90" y="606.00" width="29.50" height="31.80" fill="#4b5bac"/>
<rect x="226.10" y="606.00" width="30.20" height="31.80" fill="#a1a3d7"/>
<rect x="256.00" y="606.00" width="30.20" height="31.80" fill="#f6938e"/>
<rect x="285.90" y="606.00" width="29.60" height="31.80" fill="#ee372d"/>
<rect x="315.20" y="606.00" width="30.10" height="31.80" fill="#aaabdb"/>
<rect x="345.00" y="606.00" width="29.70" height="31.80" fill="#ef433a"/>
<rect x="18.85" y="637.50" width="27.95" height="31.80" fill="#4658a9"/>
<rect x="46.50" y="637.50" width="30.10" height="31.80" fill="#f6938e"/>
<rect x="76.30" y="637.50" width="29.90" height="31.80" fill="#ee372d"/>
<rect x="105.90" y="637.50" width="29.90" height="31.80" fill="#feeeed"/>
<rect x="135.50" y="637.50" width="29.80" height="31.80" fill="#f58680"/>
<rect x="165.00" y="637.50" width="29.95" height="31.80" fill="#f15b53"/>
<rect x="196.90" y="637.50" width="29.50" height="31.80" fill="#d0d0ed"/>
<rect x="226.10" y="637.50" width="30.20" height="31.80" fill="#4658a9"/>
<rect x="256.00" y="637.50" width="30.20" height="31.80" fill="#ffffff"/>
<rect x="285.90" y="637.50" width="29.60" height="31.80" fill="#f9bcb9"/>
<rect x="315.20" y="637.50" width="30.10" height="31.80" fill="#767ac2"/>
<rect x="345.00" y="637.50" width="29.70" height="31.80" fill="#f9bcb9"/>
<rect x="18.85" y="669.00" width="27.95" height="31.80" fill="#4658a9"/>
<rect x="46.50" y="669.00" width="30.10" height="31.80" fill="#f3736c"/>
<rect x="76.30" y="669.00" width="29.90" height="31.80" fill="#f79a95"/>
<rect x="105.90" y="669.00" width="29.90" height="31.80" fill="#f68d87"/>
<rect x="135.50" y="669.00" width="29.80" height="31.80" fill="#babae3"/>
<rect x="165.00" y="669.00" width="29.95" height="31.80" fill="#d5d5ef"/>
<rect x="196.90" y="669.00" width="29.50" height="31.80" fill="#f79a95"/>
<rect x="226.10" y="669.00" width="30.20" height="31.80" fill="#f79a95"/>
<rect x="256.00" y="669.00" width="30.20" height="31.80" fill="#fde2e0"/>
<rect x="285.90" y="669.00" width="29.60" height="31.80" fill="#f58680"/>
<rect x="315.20" y="669.00" width="30.10" height="31.80" fill="#ffffff"/>
<rect x="345.00" y="669.00" width="29.70" height="31.80" fill="#4658a9"/>
<rect x="18.85" y="700.50" width="27.95" height="31.80" fill="#999bd4"/>
<rect x="46.50" y="700.50" width="30.10" height="31.80" fill="#dfdff3"/>
<rect x="76.30" y="700.50" width="29.90" height="31.80" fill="#fde7e6"/>
<rect x="105.90" y="700.50" width="29.90" height="31.80" fill="#fef2f1"/>
<rect x="135.50" y="700.50" width="29.80" height="31.80" fill="#4658a9"/>
<rect x="165.00" y="700.50" width="29.95" height="31.80" fill="#f8a7a3"/>
<rect x="196.90" y="700.50" width="29.50" height="31.80" fill="#f79a95"/>
<rect x="226.10" y="700.50" width="30.20" height="31.80" fill="#f9bcb9"/>
<rect x="256.00" y="700.50" width="30.20" height="31.80" fill="#f7a09c"/>
<rect x="285.90" y="700.50" width="29.60" height="31.80" fill="#f7a09c"/>
<rect x="315.20" y="700.50" width="30.10" height="31.80" fill="#fbcbc8"/>
<rect x="345.00" y="700.50" width="29.70" height="31.80" fill="#f9bcb9"/>
<rect x="18.85" y="732.00" width="27.95" height="31.80" fill="#6970ba"/>
<rect x="46.50" y="732.00" width="30.10" height="31.80" fill="#999bd4"/>
<rect x="76.30" y="732.00" width="29.90" height="31.80" fill="#f15b53"/>
<rect x="105.90" y="732.00" width="29.90" height="31.80" fill="#4658a9"/>
<rect x="135.50" y="732.00" width="29.80" height="31.80" fill="#feeeed"/>
<rect x="165.00" y="732.00" width="29.95" height="31.80" fill="#f9b5b1"/>
<rect x="196.90" y="732.00" width="29.50" height="31.80" fill="#f79a95"/>
<rect x="226.10" y="732.00" width="30.20" height="31.80" fill="#fbd2d0"/>
<rect x="256.00" y="732.00" width="30.20" height="31.80" fill="#fde7e6"/>
<rect x="285.90" y="732.00" width="29.60" height="31.80" fill="#5763b1"/>
<rect x="315.20" y="732.00" width="30.10" height="31.80" fill="#ee372d"/>
<rect x="345.00" y="732.00" width="29.70" height="31.80" fill="#f79a95"/>
<rect x="18.85" y="763.50" width="27.95" height="31.50" fill="#4b5bac"/>
<rect x="46.50" y="763.50" width="30.10" height="31.50" fill="#767ac2"/>
<rect x="76.30" y="763.50" width="29.90" height="31.50" fill="#d0d0ed"/>
<rect x="105.90" y="763.50" width="29.90" height="31.50" fill="#dfdff3"/>
<rect x="135.50" y="763.50" width="29.80" height="31.50" fill="#4b5bac"/>
<rect x="165.00" y="763.50" width="29.95" height="31.50" fill="#f8aeaa"/>
<rect x="196.90" y="763.50" width="29.50" height="31.50" fill="#f36d66"/>
<rect x="226.10" y="763.50" width="30.20" height="31.50" fill="#f3736c"/>
<rect x="256.00" y="763.50" width="30.20" height="31.50" fill="#dfdff3"/>
<rect x="285.90" y="763.50" width="29.60" height="31.50" fill="#9193d0"/>
<rect x="315.20" y="763.50" width="30.10" height="31.50" fill="#ee372d"/>
<rect x="345.00" y="763.50" width="29.70" height="31.50" fill="#f5807a"/>
</g>
<text x="378.00" y="467.10" font-size="9.4">PD-1</text>
<text x="378.00" y="498.74" font-size="9.4">CD96</text>
<text x="378.00" y="530.38" font-size="9.4">NKp44</text>
<text x="378.00" y="562.02" font-size="9.4">TIGIT</text>
<text x="378.00" y="593.66" font-size="9.4">NKG2D</text>
<text x="378.00" y="625.30" font-size="9.4">NKG2C</text>
<text x="378.00" y="656.94" font-size="9.4">NKG2A</text>
<text x="378.00" y="688.58" font-size="9.4">CD160</text>
<text x="378.00" y="720.22" font-size="9.4">CD244</text>
<text x="378.00" y="751.86" font-size="9.4">NKp30</text>
<text x="378.00" y="783.50" font-size="9.4">NKp46</text>
<text x="476.80" y="759.80" font-size="8.0" text-anchor="middle">Row z-score</text>
<rect x="431.5" y="766" width="88.5" height="9.2" fill="url(#cb)"/>
<text x="432.40" y="785.80" font-size="7.8">−1.5</text>
<text x="520.30" y="785.80" font-size="7.8" text-anchor="end">1.5</text>
</svg>
</body>
</html>
